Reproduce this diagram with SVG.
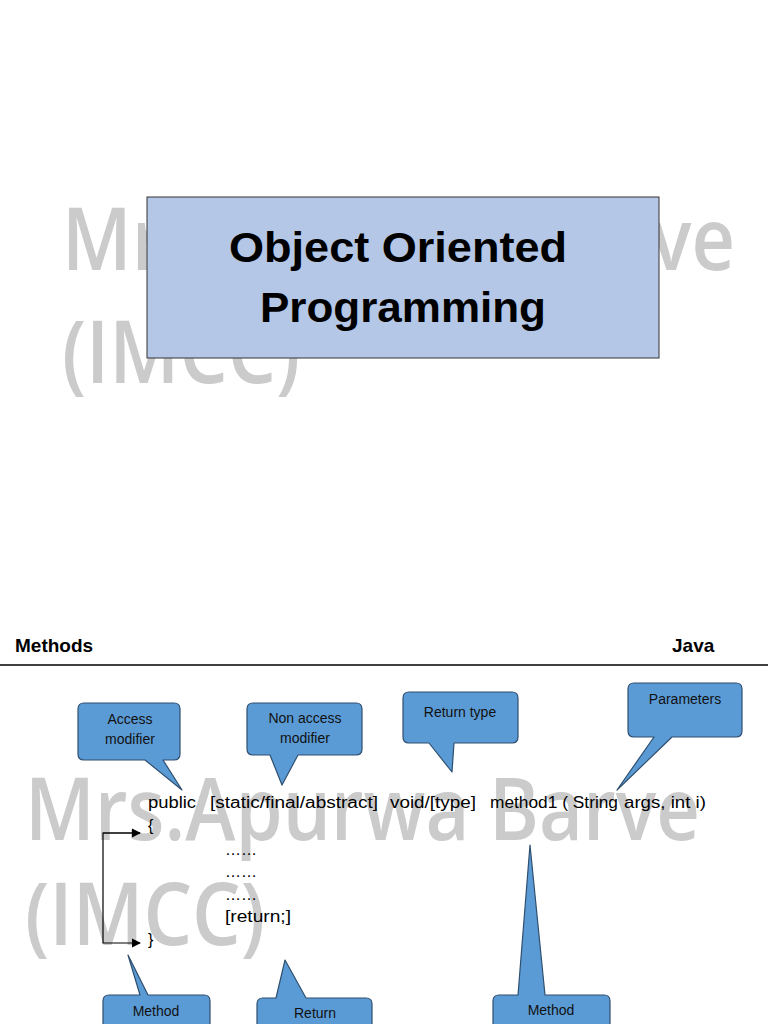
<svg xmlns="http://www.w3.org/2000/svg" width="768" height="1024" viewBox="0 0 768 1024">
<style>
.wm{font-family:"Open Sans","Liberation Sans",sans-serif;font-size:86px;fill:#cbcbcb;font-weight:600}
.co{fill:#5b9bd5;stroke:#2f4f6f;stroke-width:1.2;stroke-linejoin:round}
.ct{font-family:"Liberation Sans",sans-serif;font-size:14px;fill:#111;text-anchor:middle}
.code{font-family:"Liberation Sans",sans-serif;font-size:16px;fill:#000}
.hd{font-family:"Liberation Sans",sans-serif;font-size:19px;font-weight:bold;fill:#000}
</style>
<defs><marker id="ar" markerWidth="8" markerHeight="8" refX="7" refY="4" orient="auto"><path d="M0,0 L8,4 L0,8 z" fill="#000"/></marker></defs>
<rect width="768" height="1024" fill="#fff"/>
<text class="wm" x="62" y="270" textLength="673" lengthAdjust="spacingAndGlyphs">Mrs.Apurwa Barve</text>
<text class="wm" x="62" y="383" textLength="238" lengthAdjust="spacingAndGlyphs">(IMCC)</text>
<g id="title"><rect x="147" y="197" width="512" height="161" fill="#b4c7e7" stroke="#333" stroke-width="1"/>
<text x="398" y="262" font-family="Liberation Sans,sans-serif" font-size="42" font-weight="bold" text-anchor="middle" textLength="338" lengthAdjust="spacingAndGlyphs">Object Oriented</text>
<text x="403" y="322" font-family="Liberation Sans,sans-serif" font-size="42" font-weight="bold" text-anchor="middle" textLength="286" lengthAdjust="spacingAndGlyphs">Programming</text></g>
<text class="hd" x="15" y="652">Methods</text>
<text class="hd" x="672" y="652">Java</text>
<line x1="0" y1="665" x2="768" y2="665" stroke="#000" stroke-width="1.5"/>
<text class="wm" x="25" y="840" textLength="675" lengthAdjust="spacingAndGlyphs">Mrs.Apurwa Barve</text>
<text class="wm" x="25" y="945" textLength="240" lengthAdjust="spacingAndGlyphs">(IMCC)</text>
<g id="code">
<text class="code" x="148" y="808" textLength="48" lengthAdjust="spacingAndGlyphs">public</text>
<text class="code" x="210" y="808" textLength="168" lengthAdjust="spacingAndGlyphs">[static/final/abstract]</text>
<text class="code" x="390" y="808" textLength="86" lengthAdjust="spacingAndGlyphs">void/[type]</text>
<text class="code" x="490" y="808" textLength="128" lengthAdjust="spacingAndGlyphs">method1 ( String</text>
<text class="code" x="624" y="808" textLength="82" lengthAdjust="spacingAndGlyphs">args, int i)</text>
<text class="code" x="148" y="831">{</text>
<text class="code" x="225" y="855">……</text>
<text class="code" x="225" y="877">……</text>
<text class="code" x="225" y="900">……</text>
<text class="code" x="225" y="922" textLength="66" lengthAdjust="spacingAndGlyphs">[return;]</text>
<text class="code" x="148" y="945">}</text>
</g>
<g id="connectors" fill="none" stroke="#000" stroke-width="1.2">
<path d="M140,833 H103 V943 H140" marker-end="url(#ar)"/>
<path d="M103,833 H140" marker-end="url(#ar)"/>
</g>
<g id="access"><path class="co" d="M84,703 H174 Q180,703 180,709 V754 Q180,760 174,760 H163 L182,790 L145,760 H84 Q78,760 78,754 V709 Q78,703 84,703 Z"/><text class="ct" x="130" y="724">Access</text><text class="ct" x="130" y="744">modifier</text></g>
<g id="nonaccess"><path class="co" d="M253,703 H356 Q362,703 362,709 V749 Q362,755 356,755 H298 L282,785 L270,755 H253 Q247,755 247,749 V709 Q247,703 253,703 Z"/><text class="ct" x="305" y="723">Non access</text><text class="ct" x="305" y="743">modifier</text></g>
<g id="rettype"><path class="co" d="M409,692 H512 Q518,692 518,698 V737 Q518,743 512,743 H454 L452,772 L429,743 H409 Q403,743 403,737 V698 Q403,692 409,692 Z"/><text class="ct" x="460" y="717">Return type</text></g>
<g id="params"><path class="co" d="M634,683 H736 Q742,683 742,689 V731 Q742,737 736,737 H672 L617,790 L654,737 H634 Q628,737 628,731 V689 Q628,683 634,683 Z"/><text class="ct" x="685" y="704">Parameters</text></g>
<g id="method1"><path class="co" d="M109,995 H140 L128,955 L148,995 H204 Q210,995 210,1001 V1030 H103 V1001 Q103,995 109,995 Z"/><text class="ct" x="156" y="1016">Method</text></g>
<g id="ret"><path class="co" d="M263,998 H276 L285,960 L306,998 H366 Q372,998 372,1004 V1030 H257 V1004 Q257,998 263,998 Z"/><text class="ct" x="315" y="1018">Return</text></g>
<g id="method2"><path class="co" d="M499,995 H518 L530,845 L545,995 H604 Q610,995 610,1001 V1030 H493 V1001 Q493,995 499,995 Z"/><text class="ct" x="551" y="1015">Method</text></g>
</svg>
